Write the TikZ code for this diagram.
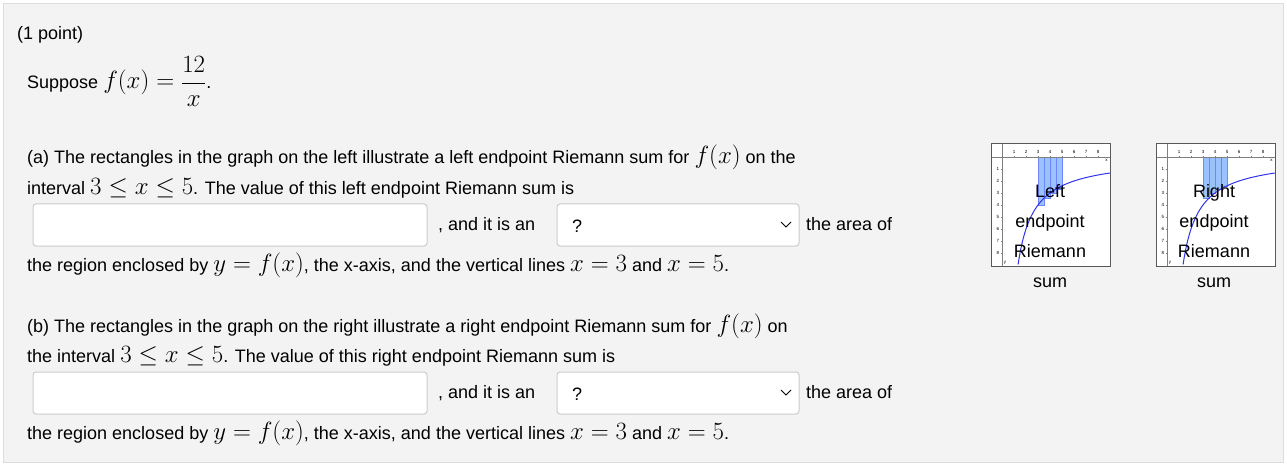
\documentclass[tikz,border=0pt]{standalone}
\usepackage{fontspec}
\setmainfont{Liberation Sans}
\usetikzlibrary{calc}
\definecolor{bg}{HTML}{F3F3F3}
\definecolor{bd}{HTML}{DDDDDD}
\definecolor{ib}{HTML}{CCCCCC}
\definecolor{rectc}{HTML}{99C2FF}
\definecolor{curvec}{HTML}{3333EE}
\newcommand{\mth}[1]{{\fontsize{23}{26}\selectfont$#1$}}
\tikzset{
  txt/.style={anchor=base west,inner sep=0pt,font=\fontsize{18}{22}\selectfont},
  ctr/.style={anchor=base,inner sep=0pt,font=\fontsize{18}{22}\selectfont},
  inbox/.style={draw=ib,fill=white,rounded corners=3pt,line width=1pt},
  tick/.style={font=\fontsize{4.5}{5}\selectfont,inner sep=0pt}
}
\newcommand{\rsgraph}[3]{%
\begin{scope}[shift={(#1,157)},x=12pt,y=-12pt]
 \fill[white] (-0.9,-1.1) rectangle (9,9.1);
 \foreach \i in {0,...,3}{
   \pgfmathsetmacro{\xa}{3+0.5*\i}
   \pgfmathsetmacro{\hh}{12/(\xa+#2)}
   \fill[rectc,draw=rectc!70!blue] (\xa,0) rectangle (\xa+0.5,\hh);}
 \draw[gray,line width=0.8pt] (-0.9,0) -- (9,0);
 \draw[gray,line width=0.8pt] (0,-1.1) -- (0,9.1);
 \foreach \i in {1,...,8}{
   \draw[gray] (\i,0.1)--(\i,-0.1);
   \draw[gray] (-0.1,\i)--(0.1,\i);
   \node[tick] at (\i,-0.45) {\i};
   \node[tick] at (-0.35,\i) {\i};}
 \node[tick] at (8.7,0.25) {x};
 \node[tick] at (0.25,8.8) {y};
 \draw[curvec,line width=1pt,domain=1.34:9,samples=80] plot (\x,{12/\x});
 \draw[gray!70!black,line width=0.8pt] (-0.9,-1.1) rectangle (9,9.1);
 \node[ctr] (#3) at (4.05,-3.25) {};
\end{scope}}
\begin{document}
\begin{tikzpicture}[x=1pt,y=-1pt]
\useasboundingbox (0,0) rectangle (1287,465);
\fill[white] (0,0) rectangle (1287,465);
\draw[bd,fill=bg] (3,3) rectangle (1283,462);
\node[txt] (pt) at (17,40) {(1 point)};
\node[txt] (sup) at (27,89) {Suppose \mth{f(x)=\displaystyle\frac{12}{x}}.};
\node[txt] (a1) at (27,164) {(a) The rectangles in the graph on the left illustrate a left endpoint Riemann sum for \mth{f(x)} on the};
\node[txt] (a2) at (27,194) {interval \mth{3\le x\le 5}. The value of this left endpoint Riemann sum is};
\draw[inbox] (33,204) rectangle (427,246);
\node[txt] (a3) at (438,230) {, and it is an};
\draw[inbox] (557,204) rectangle (799,246);
\node[txt] (q1) at (572,232) {?};
\draw[line width=1pt] (781,222)--(786,227)--(791,222);
\node[txt] (a4) at (806,230) {the area of};
\node[txt] (a5) at (27,271) {the region enclosed by \mth{y=f(x)}, the x-axis, and the vertical lines \mth{x=3} and \mth{x=5}.};
\node[txt] (b1) at (27,332) {(b) The rectangles in the graph on the right illustrate a right endpoint Riemann sum for \mth{f(x)} on};
\node[txt] (b2) at (27,362) {the interval \mth{3\le x\le 5}. The value of this right endpoint Riemann sum is};
\draw[inbox] (33,372) rectangle (427,414);
\node[txt] (b3) at (438,398) {, and it is an};
\draw[inbox] (557,372) rectangle (799,414);
\node[txt] (q2) at (572,400) {?};
\draw[line width=1pt] (781,390)--(786,395)--(791,390);
\node[txt] (b4) at (806,398) {the area of};
\node[txt] (b5) at (27,439) {the region enclosed by \mth{y=f(x)}, the x-axis, and the vertical lines \mth{x=3} and \mth{x=5}.};
\rsgraph{1002}{0}{gl}
\rsgraph{1167}{0.5}{gr}
\foreach \t [count=\k] in {Left,endpoint,Riemann,sum}
  \node[ctr] at (1050,197+30*\k-30) {\t};
\foreach \t [count=\k] in {Right,endpoint,Riemann,sum}
  \node[ctr] at (1214,197+30*\k-30) {\t};
\end{tikzpicture}
\end{document}
